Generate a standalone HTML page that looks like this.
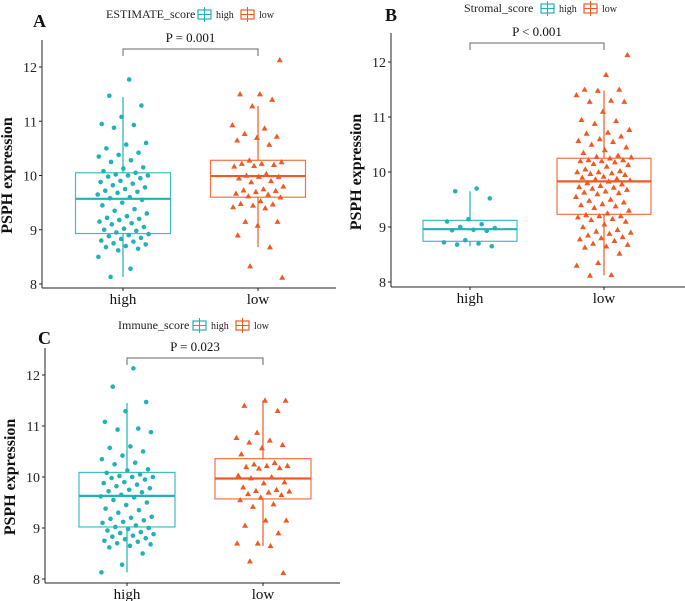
<!DOCTYPE html>
<html><head><meta charset="utf-8">
<style>
html,body{margin:0;padding:0;background:#fff;}
svg{display:block;font-family:"Liberation Serif",serif;}
</style></head>
<body>
<svg id="chart" width="685" height="601" viewBox="0 0 685 601" xmlns="http://www.w3.org/2000/svg"></svg>
<script>
const categories = ["high","low"];
const yTicks = [8,9,10,11,12];
// Panel A (ESTIMATE_score)
const aHigh = [11.77,11.47,11.29,11.08,10.95,10.93,10.88,10.6,10.57,10.5,10.42,10.38,10.35,10.28,10.25,10.15,10.13,10.08,10.05,10.02,10.0,10.0,9.98,9.95,9.9,9.88,9.85,9.82,9.78,9.75,9.72,9.7,9.68,9.65,9.6,9.58,9.55,9.5,9.45,9.38,9.35,9.3,9.25,9.22,9.2,9.18,9.15,9.12,9.1,9.05,9.02,9.0,8.98,8.95,8.92,8.9,8.88,8.85,8.83,8.8,8.78,8.75,8.73,8.7,8.68,8.65,8.62,8.5,8.28,8.13];
const aLow = [12.13,11.5,11.5,11.4,11.28,10.93,10.87,10.77,10.72,10.7,10.65,10.57,10.28,10.25,10.22,10.22,10.2,10.18,10.17,10.03,10.0,9.98,9.98,9.95,9.9,9.88,9.8,9.75,9.73,9.72,9.7,9.67,9.65,9.62,9.6,9.53,9.48,9.47,9.45,9.42,9.4,9.15,9.15,9.08,8.9,8.68,8.33,8.12];
const aStatsHigh = [8.13,8.93,9.57,10.05,11.45];
const aStatsLow = [8.68,9.6,9.99,10.28,11.28];
// Panel B (Stromal_score)
const bHigh = [9.7,9.65,9.52,9.14,9.1,9.05,9.0,8.98,8.95,8.94,8.93,8.76,8.72,8.7,8.68,8.65];
const bLow = [12.13,11.77,11.5,11.5,11.48,11.4,11.3,11.28,11.28,11.1,10.95,10.93,10.88,10.77,10.72,10.7,10.65,10.6,10.57,10.55,10.5,10.45,10.4,10.35,10.3,10.28,10.27,10.25,10.22,10.22,10.2,10.2,10.18,10.15,10.13,10.1,10.05,10.02,10.0,10.0,9.98,9.97,9.95,9.92,9.9,9.88,9.87,9.85,9.83,9.8,9.78,9.75,9.73,9.72,9.7,9.68,9.65,9.63,9.62,9.6,9.55,9.5,9.48,9.45,9.42,9.4,9.38,9.35,9.3,9.25,9.22,9.2,9.2,9.18,9.15,9.13,9.1,9.05,9.0,8.95,8.92,8.9,8.88,8.85,8.82,8.8,8.78,8.75,8.7,8.68,8.65,8.63,8.52,8.35,8.3,8.13,8.12];
const bStatsHigh = [8.65,8.74,8.96,9.12,9.65];
const bStatsLow = [8.12,9.23,9.83,10.25,11.48];
// Panel C (Immune_score)
const cHigh = [12.13,11.77,11.47,11.29,11.08,10.95,10.93,10.88,10.6,10.57,10.5,10.42,10.35,10.28,10.25,10.15,10.13,10.08,10.05,10.02,10.0,10.0,9.98,9.95,9.9,9.88,9.85,9.82,9.78,9.75,9.72,9.7,9.65,9.62,9.6,9.55,9.5,9.45,9.38,9.35,9.3,9.22,9.2,9.18,9.15,9.12,9.1,9.05,9.02,9.0,8.98,8.95,8.92,8.9,8.88,8.85,8.83,8.8,8.78,8.75,8.73,8.7,8.68,8.65,8.62,8.5,8.28,8.13];
const cLow = [11.5,11.5,11.4,11.3,10.87,10.77,10.72,10.68,10.63,10.57,10.45,10.28,10.25,10.22,10.22,10.2,10.18,10.17,10.03,10.0,9.98,9.9,9.88,9.8,9.75,9.73,9.72,9.7,9.67,9.65,9.6,9.55,9.47,9.42,9.15,9.15,9.05,8.9,8.7,8.7,8.65,8.35,8.12];
const cStatsHigh = [8.13,9.02,9.63,10.09,11.45];
const cStatsLow = [8.65,9.57,9.97,10.36,11.5];

const TEAL="#20b2b6", ORANGE="#ee5a24";
const svg=document.getElementById('chart');
const NS="http://www.w3.org/2000/svg";
function mk(tag,attrs,parent){const e=document.createElementNS(NS,tag);for(const k in attrs)e.setAttribute(k,attrs[k]);(parent||svg).appendChild(e);return e;}
function txt(s,attrs,parent){const e=mk('text',attrs,parent);e.textContent=s;return e;}

function drawPanel(p){
  const g=mk('g',{});
  
  
  const y=v=>p.y8-(v-8)*(p.y8-p.y12)/4;
  const x=i=>p.xc[i];
  const ya=mk('line',{x1:p.ax,y1:p.top,x2:p.ax,y2:p.bottom,stroke:'#222','stroke-width':1},g);
  
  const xa=mk('line',{x1:p.ax,y1:p.bottom,x2:p.right,y2:p.bottom,stroke:'#222','stroke-width':1},g);
  
  yTicks.forEach(t=>{
    mk('line',{x1:p.ax-3,y1:y(t),x2:p.ax,y2:y(t),stroke:'#222'},g);
    const tl=txt(String(t),{x:p.ax-5,y:y(t)+5,'text-anchor':'end','font-size':14,fill:'#222'},g);
    
  });
  categories.forEach((c,i)=>{
    mk('line',{x1:x(i),y1:p.bottom,x2:x(i),y2:p.bottom+3,stroke:'#222'},g);
    const xl=txt(c,{x:x(i),y:p.bottom+16,'text-anchor':'middle','font-size':15,fill:'#111'},g);
    
  });
  const yt=txt('PSPH expression',{x:0,y:0,transform:`translate(${p.ax-30},${(p.y8+p.y12)/2}) rotate(-90)`,'text-anchor':'middle','font-size':16,'font-weight':'bold',fill:'#111'},g);
  
  const pl=txt(p.letter,{x:p.lx,y:p.ly,'font-size':18,'font-weight':'bold',fill:'#111'},g);
  
  const lg=mk('g',{},g);
  
  txt(p.legendTitle,{x:p.legX,y:p.legY+4,'font-size':12,fill:'#222'},lg);
  const t1=p.legX+p.legTW;
  [[TEAL,'high',t1],[ORANGE,'low',t1+43]].forEach(([col,lab,lx])=>{
    const en=mk('g',{},lg);
    
    mk('rect',{x:lx,y:p.legY-4,width:13,height:9,fill:'none',stroke:col,'stroke-width':1.2},en);
    mk('line',{x1:lx+6.5,y1:p.legY-7,x2:lx+6.5,y2:p.legY+8,stroke:col},en);
    mk('line',{x1:lx,y1:p.legY+0.5,x2:lx+13,y2:p.legY+0.5,stroke:col},en);
    txt(lab,{x:lx+18,y:p.legY+4,'font-size':10,fill:'#222'},en);
  });
  [[p.sh,TEAL,'high'],[p.sl,ORANGE,'low']].forEach(([s,col,lab],i)=>{
    const bg=mk('g',{},g);
    
    const cx=x(i),hw=p.bw/2;
    mk('line',{x1:cx,y1:y(s[0]),x2:cx,y2:y(s[1]),stroke:col,'stroke-width':1.2},bg);
    mk('line',{x1:cx,y1:y(s[3]),x2:cx,y2:y(s[4]),stroke:col,'stroke-width':1.2},bg);
    mk('rect',{x:cx-hw,y:y(s[3]),width:p.bw,height:y(s[1])-y(s[3]),fill:'none',stroke:col,'stroke-width':1.2,opacity:0.85},bg);
    mk('line',{x1:cx-hw,y1:y(s[2]),x2:cx+hw,y2:y(s[2]),stroke:col,'stroke-width':2.2},bg);
  });
  [[p.dh,TEAL,'high'],[p.dl,ORANGE,'low']].forEach(([d,col,lab],i)=>{
    const pg=mk('g',{},g);
    
    d.forEach((v,j)=>{
      const f=((j+1)*0.618034+i*0.3)%1;
      const jit=(f-0.5)*p.jw;
      const px=x(i)+jit,py=y(v);
      let e;
      if(i===0) e=mk('circle',{cx:px,cy:py,r:2.3,fill:col},pg);
      else e=mk('polygon',{points:`${px},${py-3} ${px-3},${py+2.3} ${px+3},${py+2.3}`,fill:col},pg);
      
      
    });
  });
  const br=mk('g',{},g);
  
  mk('polyline',{points:`${x(0)},${p.brY+7} ${x(0)},${p.brY} ${x(1)},${p.brY} ${x(1)},${p.brY+7}`,fill:'none',stroke:'#666','stroke-width':1},br);
  txt(p.pText,{x:(x(0)+x(1))/2,y:p.brY-7,'text-anchor':'middle','font-size':13,fill:'#111'},br);
}

drawPanel({letter:'A',lx:33,ly:27,legendTitle:'ESTIMATE_score',legX:106,legY:14,legTW:92,
  ax:42,top:40,bottom:288,right:336,y8:284,y12:67,xc:[123,258],bw:95,jw:52,
  sh:aStatsHigh,sl:aStatsLow,dh:aHigh,dl:aLow,brY:49,pText:'P = 0.001'});
drawPanel({letter:'B',lx:385,ly:21,legendTitle:'Stromal_score',legX:464,legY:8,legTW:77,
  ax:391,top:33,bottom:287,right:685,y8:282,y12:62,xc:[470,604],bw:94,jw:56,
  sh:bStatsHigh,sl:bStatsLow,dh:bHigh,dl:bLow,brY:43,pText:'P < 0.001'});
drawPanel({letter:'C',lx:38,ly:344,legendTitle:'Immune_score',legX:118,legY:325,legTW:75,
  ax:45,top:348,bottom:583,right:340,y8:579,y12:375,xc:[127,263],bw:96,jw:54,
  sh:cStatsHigh,sl:cStatsLow,dh:cHigh,dl:cLow,brY:358,pText:'P = 0.023'});
</script>
</body></html>
